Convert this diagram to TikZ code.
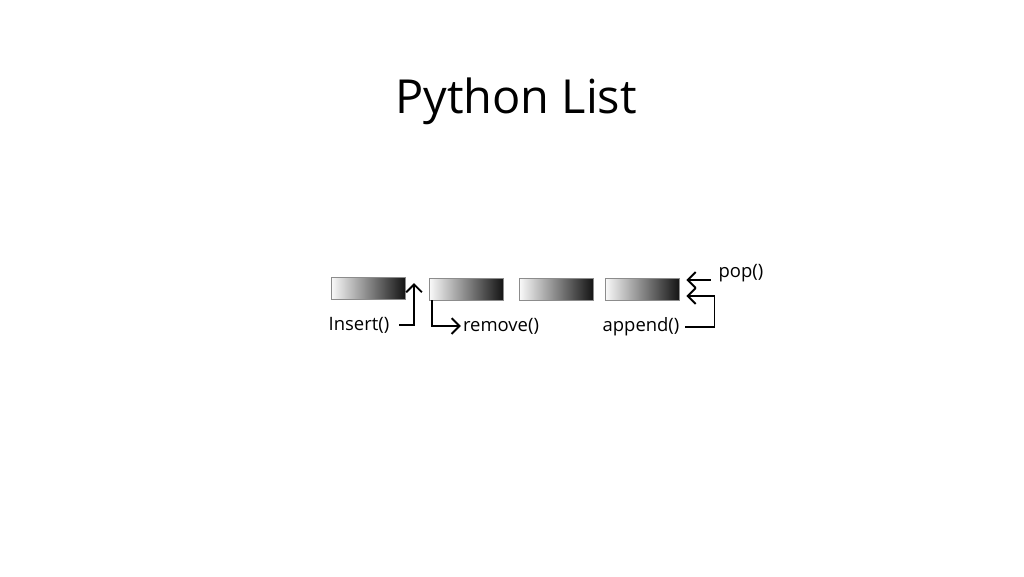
\documentclass[tikz,border=0pt]{standalone}
\usepackage{fontspec}
\setmainfont{Open Sans}
\usetikzlibrary{arrows.meta,positioning}

\begin{document}
\begin{tikzpicture}[x=0.02cm,y=-0.02cm,
	cell/.style={draw=black!45, line width=0.4pt, minimum width=1.48cm, minimum height=0.44cm, inner sep=0pt, left color=black!2, right color=black!92},
	op/.style={font=\fontsize{10.5}{12}\selectfont, inner sep=1pt},
	link/.style={line width=1.1pt, -{Straight Barb[length=4.5pt,width=9pt]}}]

\path [use as bounding box] (0,0) rectangle (1024,576);

% TITLE
\node (title) at (516,101) {\fontsize{26.7}{32}\selectfont Python List};

% CELLS
\node[cell] (c1) at (368,288) {};
\node[cell] (c2) at (466,289) {};
\node[cell] (c3) at (556,289) {};
\node[cell] (c4) at (642,289) {};

% OPERATIONS
\node[op] (ins) at (359,325) {Insert()};
\node[op] (rem) at (501,326) {remove()};
\node[op] (app) at (641,327) {append()};
\node[op] (pop) at (741,273) {pop()};

\coordinate (insTip) at (414,283);
\coordinate (popTip) at ([xshift=0.14cm,yshift=0.18cm]c4.east);
\coordinate (appTip) at ([xshift=0.14cm,yshift=-0.14cm]c4.east);

% LINKS
\draw [link, shorten <=0.16cm] (ins.east) -| (insTip);
\draw [link] ([xshift=0.06cm]c2.south west) |- (rem.west);
\draw [link, shorten <=0.12cm] (pop.west |- popTip) -- (popTip);
\draw [link, shorten <=0.08cm] (app.east) -- ++(33,0) |- (appTip);

\end{tikzpicture}
\end{document}
